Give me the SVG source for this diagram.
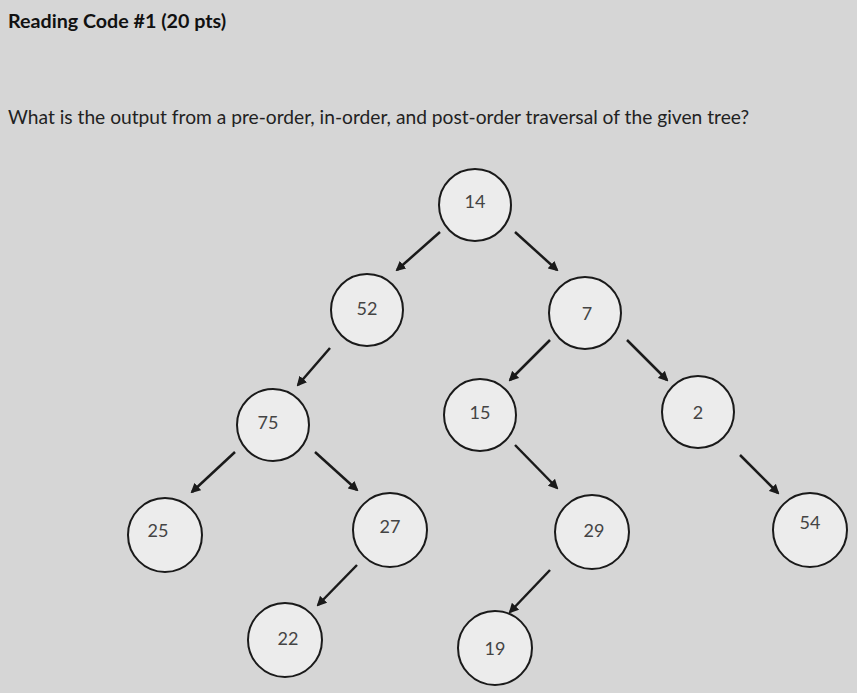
<svg xmlns="http://www.w3.org/2000/svg" width="857" height="693" viewBox="0 0 857 693">
<defs>
<style>
.n circle{fill:#ececec;stroke:#1a1a1a;stroke-width:2}
.n text{font-family:"Lato","Liberation Sans",sans-serif;font-size:18px;fill:#444;text-anchor:middle;dominant-baseline:central}
#edges line{stroke:#1a1a1a;stroke-width:2.5;marker-end:url(#a)}
</style>
<marker id="a" viewBox="0 0 10 10" refX="8" refY="5" markerWidth="4" markerHeight="4" orient="auto"><path d="M0,0L10,5L0,10z" fill="#1a1a1a"/></marker>
</defs>
<rect width="857" height="693" fill="#d6d6d6"/>
<text x="8" y="28" font-family="Lato,'Liberation Sans',sans-serif" font-weight="bold" font-size="19.7" fill="#111">Reading Code #1 (20 pts)</text>
<text x="8" y="124" font-family="Lato,'Liberation Sans',sans-serif" font-size="19.2" fill="#222">What is the output from a pre-order, in-order, and post-order traversal of the given tree?</text>
<g id="edges">
<line x1="440" y1="232" x2="397" y2="270"/>
<line x1="515" y1="232" x2="557" y2="270"/>
<line x1="330" y1="348" x2="298" y2="385"/>
<line x1="550" y1="340" x2="510" y2="380"/>
<line x1="627" y1="340" x2="667" y2="380"/>
<line x1="235" y1="452" x2="192" y2="492"/>
<line x1="315" y1="452" x2="357" y2="490"/>
<line x1="515" y1="445" x2="557" y2="488"/>
<line x1="740" y1="455" x2="778" y2="493"/>
<line x1="357" y1="565" x2="318" y2="605"/>
<line x1="550" y1="570" x2="510" y2="612"/>
</g>
<g id="n14" class="n"><circle cx="475" cy="205" r="36"/><text x="475" y="201">14</text></g>
<g id="n52" class="n"><circle cx="367" cy="310" r="36"/><text x="367" y="308">52</text></g>
<g id="n7" class="n"><circle cx="585" cy="313" r="36"/><text x="587" y="313">7</text></g>
<g id="n75" class="n"><circle cx="273" cy="425" r="36"/><text x="268" y="422">75</text></g>
<g id="n15" class="n"><circle cx="480" cy="415" r="36"/><text x="480" y="412">15</text></g>
<g id="n2" class="n"><circle cx="698" cy="412" r="36"/><text x="698" y="412">2</text></g>
<g id="n25" class="n"><circle cx="165" cy="535" r="37"/><text x="158" y="530">25</text></g>
<g id="n27" class="n"><circle cx="390" cy="530" r="37"/><text x="390" y="526">27</text></g>
<g id="n29" class="n"><circle cx="592" cy="532" r="37"/><text x="594" y="530">29</text></g>
<g id="n54" class="n"><circle cx="810" cy="530" r="37"/><text x="810" y="522">54</text></g>
<g id="n22" class="n"><circle cx="285" cy="640" r="37"/><text x="288" y="638">22</text></g>
<g id="n19" class="n"><circle cx="495" cy="648" r="37"/><text x="495" y="648">19</text></g>
</svg>
